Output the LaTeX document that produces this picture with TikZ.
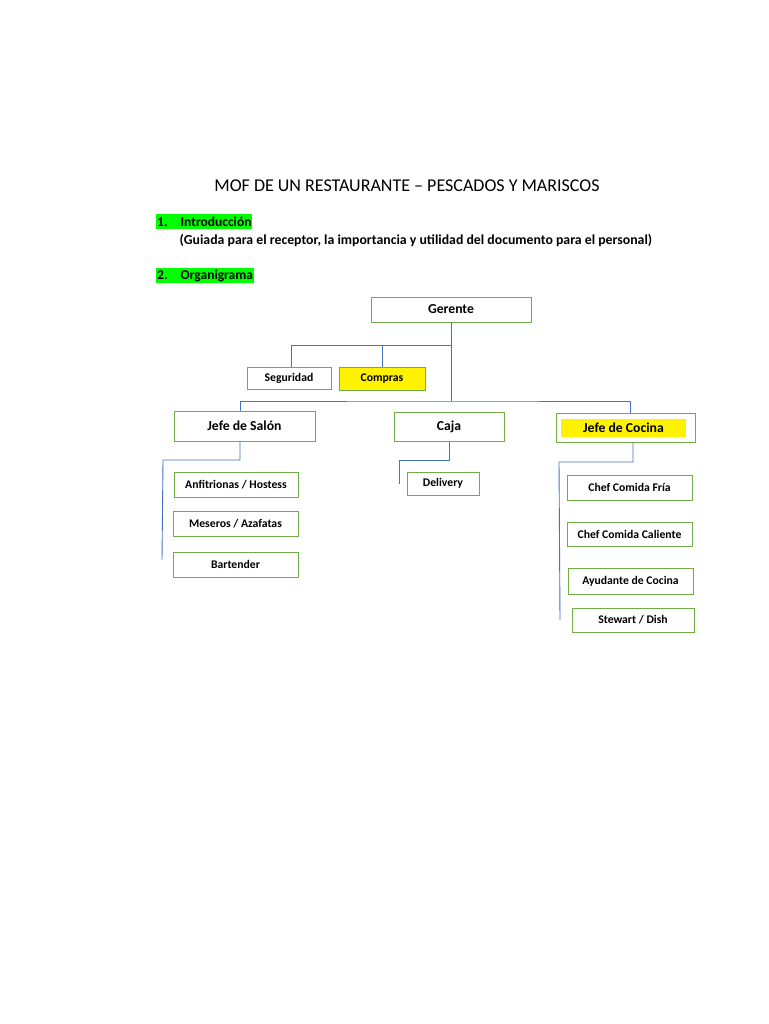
\documentclass[tikz,border=0pt]{standalone}
\usepackage{fontspec}
\setmainfont{Carlito}
\definecolor{bgreen}{RGB}{112,173,71}
\definecolor{lblue}{RGB}{68,114,196}
\definecolor{hgreen}{RGB}{0,255,0}
\begin{document}
\begin{tikzpicture}[x=1pt,y=-1pt,
  box/.style={draw=bgreen, line width=1pt, fill=white, inner sep=0pt, font=\bfseries\fontsize{11.7}{13}\selectfont},
  big/.style={font=\bfseries\fontsize{13.7}{15}\selectfont},
  link/.style={draw=lblue, line width=0.9pt},
  hl/.style={fill=hgreen, inner sep=0pt, anchor=west, align=left, font=\bfseries\fontsize{13.5}{15}\selectfont}]
\useasboundingbox (0,0) rectangle (768,1024);
\node[font=\fontsize{18}{20}\selectfont] (title) at (407,186) {MOF DE UN RESTAURANTE – PESCADOS Y MARISCOS};
\node[hl, minimum width=96pt, minimum height=15pt, text width=96pt] (h1) at (156,221.5) {\hspace{1pt}1.\hspace{13pt}Introducción};
\node[anchor=west, font=\bfseries\fontsize{13.8}{15}\selectfont] (p1) at (176,240) {(Guiada para el receptor, la importancia y utilidad del documento para el personal)};
\node[hl, minimum width=98pt, minimum height=15pt, text width=98pt] (h2) at (156,275.5) {\hspace{1pt}2.\hspace{13pt}Organigrama};

\node[box, big, minimum width=160pt, minimum height=25pt] (ger) at (451,309.5) {Gerente};
\node[box, minimum width=84pt, minimum height=22pt] (seg) at (289,378) {Seguridad};
\node[box, fill=yellow, minimum width=86pt, minimum height=23pt] (com) at (382,378.5) {Compras};
\node[box, big, minimum width=141pt, minimum height=30pt] (sal) at (244.5,426) {Jefe de Salón};
\node[box, big, minimum width=110pt, minimum height=29pt] (caja) at (449,426.5) {Caja};
\node[box, minimum width=139pt, minimum height=29pt] (coc) at (625.5,427.5) {};
\node[fill=yellow, big, minimum width=125pt, minimum height=18pt, inner sep=0pt] (cocl) at (623.5,428) {Jefe de Cocina};
\node[box, minimum width=124pt, minimum height=25pt] (anf) at (236,484.5) {Anfitrionas / Hostess};
\node[box, minimum width=125pt, minimum height=25pt] (mes) at (235.5,523.5) {Meseros / Azafatas};
\node[box, minimum width=125pt, minimum height=25pt] (bar) at (235.5,564.5) {Bartender};
\node[box, minimum width=72pt, minimum height=23pt] (del) at (443,483.5) {Delivery};
\node[box, minimum width=125pt, minimum height=25pt] (cf) at (629.5,487.5) {Chef Comida Fría};
\node[box, minimum width=125pt, minimum height=24pt] (cc) at (629.5,534) {Chef Comida Caliente};
\node[box, minimum width=125pt, minimum height=26pt] (ay) at (630.5,581) {Ayudante de Cocina};
\node[box, minimum width=122pt, minimum height=24pt] (st) at (633,620) {Stewart / Dish};

\coordinate (g1) at (451,345);
\coordinate (g2) at (451,401);
\draw[link] (ger.south) -- (g2);
\draw[link] (g1) -| (seg.north -| 291,0);
\draw[link] (382,345) -- (com.north);
\draw[link] (sal.north -| 240,0) |- (g2) -| (coc.north -| 630,0);
\draw[link] (sal.south -| 240,0) -- (240,460) -- (163,460) -- (162,560);
\draw[link] (caja.south) -- (449,460) -- (399,460) -- (399,484);
\draw[link] (coc.south -| 633,0) -- (633,462) -- (559,462) -- (560,620);
\end{tikzpicture}
\end{document}
